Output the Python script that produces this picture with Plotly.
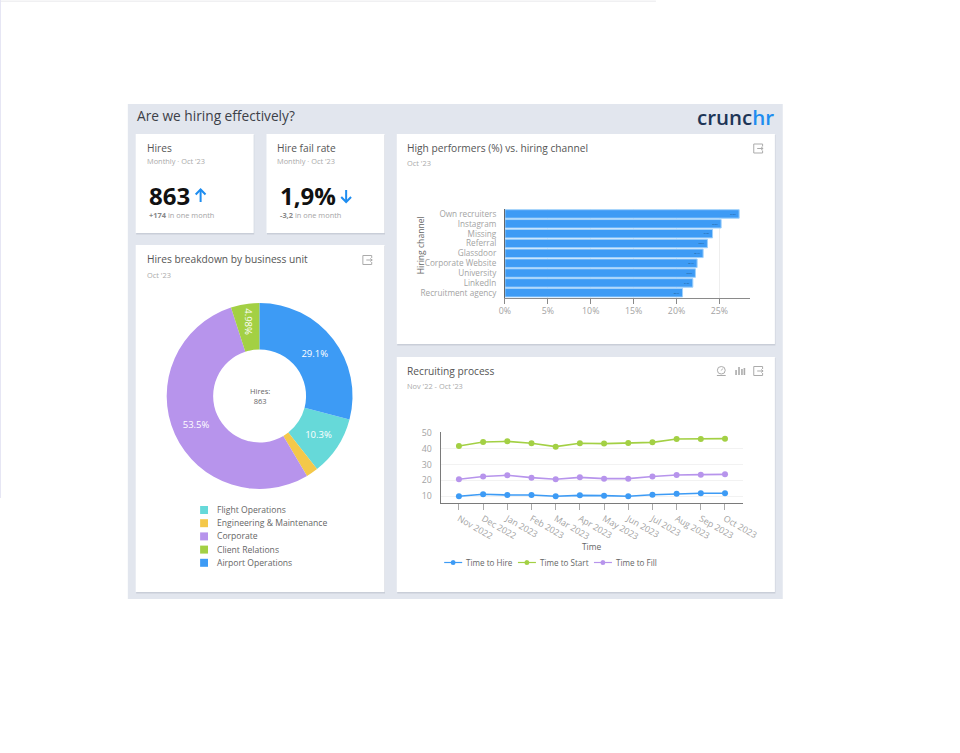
import plotly.graph_objects as go

W, H = 962, 753
FONT = "Open Sans"
BLUE, GREEN, PURPLE, TEAL, YELLOW = "#3d9bf5", "#a3d044", "#b794ec", "#66d9d9", "#f4c84a"

# ---- data ----
units = ["Flight Operations", "Engineering & Maintenance", "Corporate", "Client Relations", "Airport Operations"]
unit_hires = [89, 18, 462, 43, 251]
channels = ["Own recruiters", "Instagram", "Missing", "Referral", "Glassdoor",
            "Corporate Website", "University", "LinkedIn", "Recruitment agency"]
high_performers = [27.3, 25.2, 24.2, 23.6, 23.1, 22.4, 22.2, 21.9, 20.7]
months = ["Nov 2022", "Dec 2022", "Jan 2023", "Feb 2023", "Mar 2023", "Apr 2023",
          "May 2023", "Jun 2023", "Jul 2023", "Aug 2023", "Sep 2023", "Oct 2023"]
time_to_hire = [10, 11.3, 10.8, 10.8, 10, 10.6, 10.4, 10, 11, 11.6, 11.9, 11.9]
time_to_start = [41.6, 44.1, 44.5, 43.3, 41.2, 43.3, 43.1, 43.5, 43.9, 46, 46, 46.2]
time_to_fill = [20.7, 22.4, 23.2, 21.7, 20.7, 21.9, 21.1, 21.1, 22.4, 23.4, 23.6, 23.8]
bar_ticks = [0, 5, 10, 15, 20, 25]
bar_tick_labels = ["0%", "5%", "10%", "15%", "20%", "25%"]
line_ticks = [10, 20, 30, 40, 50]


def px(x):
    return x / W


def py(y):
    return 1 - y / H


shapes, annotations = [], []


def rect(x0, y0, x1, y1, fill, line=None, w=0):
    shapes.append(dict(type="rect", xref="paper", yref="paper", x0=px(x0), x1=px(x1), y0=py(y0), y1=py(y1),
                       fillcolor=fill, line=dict(color=line or fill, width=w), layer="below"))


def card(x0, y0, x1, y1):
    rect(x0 + .5, y0 + 1, x1 + .5, y1 + 1.5, "#c9ced8")
    rect(x0, y0, x1, y1, "#ffffff")


def text(x, y, s, size, color="#555555", weight=None, anchor="left", angle=0):
    annotations.append(dict(xref="paper", yref="paper", x=px(x), y=py(y), text=s, showarrow=False,
                            xanchor=anchor, yanchor="middle", align=anchor, borderpad=0, textangle=angle,
                            font=dict(family=FONT, size=size, color=color, weight=weight)))


def stroke(points, color="#ababab", width=1):
    d = "M" + " L".join(f"{px(a):.5f},{py(b):.5f}" for a, b in points)
    shapes.append(dict(type="path", xref="paper", yref="paper", path=d, line=dict(color=color, width=width)))


def export_icon(cx, cy):
    stroke([(cx + 4.5, cy - 2), (cx + 4.5, cy - 4.5), (cx - 4.5, cy - 4.5), (cx - 4.5, cy + 4.5),
            (cx + 4.5, cy + 4.5), (cx + 4.5, cy + 2)])
    stroke([(cx - 1, cy), (cx + 5, cy)])
    stroke([(cx + 3, cy - 1.5), (cx + 5, cy), (cx + 3, cy + 1.5)])


def kpi_arrow(cx, tip, tail):
    head = 5 if tail > tip else -5
    stroke([(cx, tail), (cx, tip)], "#1e8df0", 2)
    stroke([(cx - 5, tip + head), (cx, tip), (cx + 5, tip + head)], "#1e8df0", 2)


# page edge lines, dashboard background and cards
rect(0, 0.5, 667, 2, "#f0f0f2")
rect(0, 0, 1, 498, "#e6e6f4")
rect(130, 104, 796, 599, "#e2e6ee")
card(138, 134, 258, 233)
card(271, 134, 391, 233)
card(138, 245, 391, 592)
card(403.5, 134, 788, 344)
card(403.5, 357, 788, 592)

# header and KPI texts
text(138, 116, "Are we hiring effectively?", 13.7, "#3c4048", 500)
text(788, 117, '<span style="color:#1d3557">crunc</span><span style="color:#1e8df0">hr</span>', 20.5, "#1d3557", 600, "right")
text(148, 148, "Hires", 10.2, "#555555", 500)
text(148, 161, "Monthly · Oct '23", 7.4, "#aaaaaa")
text(151, 195, "863", 24, "#111111", 700)
kpi_arrow(204, 189.5, 202)
text(151, 215, "+174", 7.4, "#888888", 700)
text(170, 215, "in one month", 7.4, "#a5a5a5")
text(281, 148, "Hire fail rate", 10.2, "#555555", 500)
text(281, 161, "Monthly · Oct '23", 7.4, "#aaaaaa")
text(284, 195, "1,9%", 24, "#111111", 700)
kpi_arrow(352, 202, 190)
text(284, 215, "-3,2", 7.4, "#888888", 700)
text(298.5, 215, "in one month", 7.4, "#a5a5a5")
text(148, 259, "Hires breakdown by business unit", 10.2, "#555555", 500)
text(148, 275, "Oct '23", 7.4, "#aaaaaa")
text(413, 148, "High performers (%) vs. hiring channel", 10.2, "#555555", 500)
text(413, 163, "Oct '23", 7.4, "#aaaaaa")
text(413, 371, "Recruiting process", 10.2, "#555555", 500)
text(413, 386, "Nov '22 - Oct '23", 7.4, "#aaaaaa")
text(264, 396, "Hires:<br>863", 7.5, "#666666", None, "center")
text(429, 245.5, "Hiring channel", 8.6, "#666666", None, "center", -90)
text(601, 546, "Time", 8.4, "#666666", None, "center")
text(252.5, 321.5, "4.98%", 9.5, "#ffffff", None, "center", 90)

export_icon(373.5, 260)
export_icon(771, 148.5)
export_icon(771, 371)
# clock icon
shapes.append(dict(type="circle", xref="paper", yref="paper", x0=px(729.5), x1=px(737.5), y0=py(374), y1=py(366.5),
                   line=dict(color="#ababab", width=1)))
stroke([(733.5, 370.5), (735, 368.5)])
stroke([(729, 375.5), (738, 375.5)])
# bars icon
for bx, top in [(748.5, 370), (751.5, 367), (754.5, 369), (757, 368)]:
    stroke([(bx, 375), (bx, top)], width=1.6)

# donut
slice_colors = [TEAL, YELLOW, PURPLE, GREEN, BLUE]
fig = go.Figure()
fig.add_trace(go.Pie(
    labels=units, values=unit_hires, sort=False, direction="clockwise", rotation=104.7, hole=0.5,
    domain=dict(x=[px(169.5), px(358.5)], y=[py(490.5), py(301.5)]),
    marker=dict(colors=slice_colors, line=dict(width=0)),
    textinfo="percent", textposition=["inside", "none", "inside", "none", "inside"],
    insidetextorientation="auto", textfont=dict(family=FONT, size=9.5, color="#ffffff"),
    showlegend=False,
))
for i, (name, color) in enumerate(zip(units, slice_colors)):
    y = 510 + i * 13.2
    rect(203.5, y - 4, 211.5, y + 4, color)
    text(219.5, y, name, 8.6, "#666666")

# bars
fig.add_trace(go.Bar(
    x=high_performers, y=channels, orientation="h", xaxis="x", yaxis="y",
    marker=dict(color=BLUE, line=dict(color="#9fd0fb", width=1)), width=0.86,
    text=[f"{v:.1f}%" for v in high_performers], textposition="inside", insidetextanchor="end",
    textangle=0, textfont=dict(family=FONT, size=4, color="#174a78"), showlegend=False,
))

# lines
for name, vals, color in [("Time to Hire", time_to_hire, BLUE), ("Time to Start", time_to_start, GREEN),
                          ("Time to Fill", time_to_fill, PURPLE)]:
    fig.add_trace(go.Scatter(x=months, y=vals, name=name, mode="lines+markers", xaxis="x2", yaxis="y2",
                             line=dict(color=color, width=1.6), marker=dict(color=color, size=6), showlegend=False))
for name, color, x0 in [("Time to Hire", BLUE, 451.7), ("Time to Start", GREEN, 526.7), ("Time to Fill", PURPLE, 604)]:
    stroke([(x0, 562.5), (x0 + 18.3, 562.5)], color, 1.2)
    shapes.append(dict(type="circle", xref="paper", yref="paper", fillcolor=color, line=dict(width=0),
                       x0=px(x0 + 6.6), x1=px(x0 + 11.6), y0=py(565), y1=py(560)))
    text(x0 + 21.6, 562.5, name, 8.1, "#666666")

tick = dict(family=FONT, size=8.8, color="#a3a3a3")
fig.update_layout(
    autosize=True, margin=dict(l=0, r=0, t=0, b=0), paper_bgcolor="#ffffff", plot_bgcolor="rgba(0,0,0,0)",
    showlegend=False, shapes=shapes, annotations=annotations, font=dict(family=FONT),
    bargap=0.1,
    xaxis=dict(domain=[px(513.5), px(763)], range=[0, 28.6], tickvals=bar_ticks, ticktext=bar_tick_labels,
               tickfont=tick, showline=True, linecolor="#8a8a8a", linewidth=1, ticks="outside", ticklen=5,
               tickcolor="#8a8a8a", showgrid=True, gridcolor="#eeeeee", zeroline=False, anchor="y"),
    yaxis=dict(domain=[py(297.7), py(209)], autorange="reversed", type="category",
               tickfont=dict(family=FONT, size=8.2, color="#a3a3a3"),
               tickvals=channels, ticktext=channels,
               showline=True, linecolor="#666666", linewidth=1, ticks="", ticklabelstandoff=6, showgrid=False,
               anchor="x"),
    xaxis2=dict(domain=[px(448), px(755.7)], range=[-0.76, 11.75], type="category", tickangle=30, tickfont=tick,
                showline=True, linecolor="#7a7a7a", linewidth=1, ticks="outside", ticklen=6, tickcolor="#aaaaaa",
                showgrid=False, anchor="y2"),
    yaxis2=dict(domain=[py(503.3), py(432.3)], range=[5.6, 50.2], tickvals=line_ticks, tickfont=tick,
                showline=True, linecolor="#7a7a7a", linewidth=1.2, ticks="", ticklabelstandoff=6, showgrid=True,
                gridcolor="#f2f2f2", zeroline=False, anchor="x2"),
)

post = """
document.documentElement.style.cssText='margin:0;padding:0;height:100%;overflow:hidden';
document.body.style.cssText='margin:0;padding:0;height:100%;overflow:hidden';
var g=document.querySelector('.plotly-graph-div');
g.style.cssText='position:fixed;left:-6px;top:-6px;width:968px;height:759px;margin:0';
Plotly.Plots.resize(g);
"""
fig.write_html("out.html", config=dict(displayModeBar=False, responsive=True), default_width="100%", default_height="100%",
               post_script=post)
